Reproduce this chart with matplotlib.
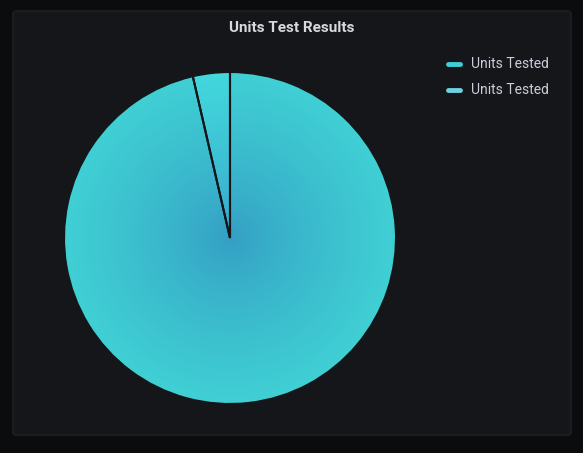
import numpy as np
import matplotlib
matplotlib.use("Agg")
import matplotlib.pyplot as plt
from matplotlib.patches import FancyBboxPatch

labels = ["Units Tested", "Units Tested"]
values = [96.4, 3.6]
legend_colors = ["#3fcfd6", "#6fd0e2"]

W, H = 583, 453
fig = plt.figure(figsize=(W/100, H/100), dpi=100, facecolor="#0b0c0e")
ax = fig.add_axes([0, 0, 1, 1])
ax.set_xlim(0, W); ax.set_ylim(0, H); ax.axis("off")
ax.set_facecolor("#0b0c0e")

panel = FancyBboxPatch((13, 453-435), 558, 424, boxstyle="round,pad=0,rounding_size=3",
                       fc="#141619", ec="#202226", lw=1)
ax.add_patch(panel)

cx, cy, r = 230, 453-238, 166
wedges, _ = ax.pie(values, center=(cx, cy), radius=r, startangle=90, counterclock=False,
                   colors=["#40cdd4", "#45c8d6"],
                   wedgeprops=dict(edgecolor="#141619", linewidth=1.5), frame=True)
ax.set_xlim(0, W); ax.set_ylim(0, H); ax.set_aspect("equal"); ax.axis("off")

# radial gradient overlay
yy, xx = np.mgrid[0:H, 0:W]
d = np.clip(np.hypot(xx - cx, yy - cy) / r, 0, 1)
c0 = np.array([0x34, 0x9e, 0xc4]) / 255
c1 = np.array([0x40, 0xd0, 0xd4]) / 255
t = d[..., None] ** 0.8
img = c0 * (1 - t) + c1 * t
for i, w in enumerate(wedges):
    im = ax.imshow(img if i == 0 else np.clip(img * 1.04, 0, 1), extent=(0, W, 0, H),
                   origin="lower", zorder=w.get_zorder() + 0.1)
    im.set_clip_path(w)
for w in wedges:
    ax.add_patch(plt.matplotlib.patches.Wedge((cx, cy), r, w.theta1, w.theta2,
                 fc="none", ec="#141619", lw=1.5, zorder=5))

ax.text(292, 453-28, "Units Test Results", color="#d8d9da", fontsize=11,
        fontweight="bold", ha="center", va="center", family="Roboto")
for i, (lab, col) in enumerate(zip(labels, legend_colors)):
    y = 453 - (64 + 26*i)
    ax.plot([448, 460], [y, y], color=col, lw=3.5, solid_capstyle="round")
    ax.text(471, y, lab, color="#ccccdc", fontsize=10, va="center", family="Roboto")

fig.savefig("out.png", dpi=100, facecolor=fig.get_facecolor())
